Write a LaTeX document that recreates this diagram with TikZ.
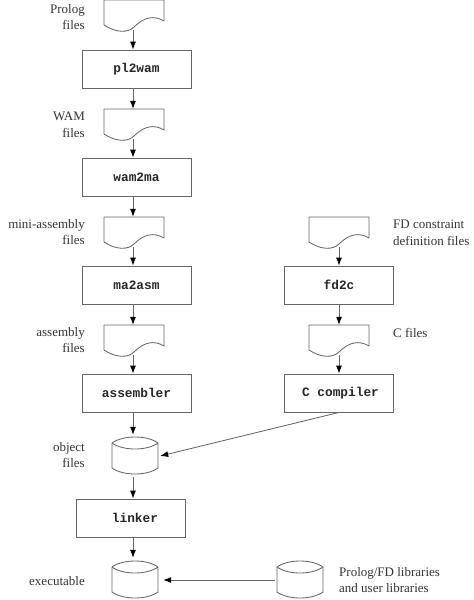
\documentclass[tikz,border=0pt]{standalone}
\usepackage{fontspec}
\setmainfont{Liberation Serif}
\setmonofont{Liberation Mono}
\usetikzlibrary{arrows.meta}
\tikzset{
  x=1pt,y=-1pt,
  toolbox/.style={draw=black!60,line width=0.85pt,minimum width=109pt,minimum height=38pt,inner sep=0pt,font=\fontsize{12.8}{14}\selectfont\ttfamily\bfseries,text=black!85},
  lab/.style={inner sep=0pt,font=\fontsize{13}{16.5}\selectfont,text=black!80},
  labl/.style={lab,align=right,anchor=east},
  labr/.style={lab,align=left,anchor=west},
  flow/.style={draw=black!60,line width=0.85pt,-{Latex[length=8pt,width=6pt,black]}},
  plainshape/.style={draw=black!60,line width=0.85pt,line join=round},
  anchorbox/.style={inner sep=0pt,minimum width=60pt,minimum height=30pt},
  cylbox/.style={inner sep=0pt,minimum height=42pt}
}
\newcommand{\docshape}[2]{% cx, top
  \draw[plainshape] (#1-30,#2) -- (#1+30,#2) -- (#1+30,#2+21)
    .. controls (#1+20,#2+15) and (#1+10,#2+17) .. (#1,#2+27)
    .. controls (#1-6,#2+33) and (#1-18,#2+33) .. (#1-30,#2+25) -- cycle;
}
\newcommand{\cylshape}[2]{% cx, top
  \draw[plainshape] (#1-23,#2+6) -- (#1-23,#2+31)
    .. controls (#1-12,#2+39) and (#1+12,#2+39) .. (#1+23,#2+31) -- (#1+23,#2+6)
    .. controls (#1+12,#2-2) and (#1-12,#2-2) .. (#1-23,#2+6)
    .. controls (#1-12,#2+14) and (#1+12,#2+14) .. (#1+23,#2+6);
}
\begin{document}
\begin{tikzpicture}
\useasboundingbox (0,0) rectangle (474,600);
% document and cylinder outlines
\docshape{134}{0}
\docshape{134}{109}
\docshape{134}{217}
\docshape{134}{325}
\docshape{339}{217}
\docshape{339}{325}
\cylshape{135}{437}
\cylshape{135}{561}
\cylshape{300}{561}
% invisible anchors for the outlines
\node[anchorbox] (d1) at (133,15) {};
\node[anchorbox] (d2) at (133,124) {};
\node[anchorbox] (d3) at (133,232) {};
\node[anchorbox] (d4) at (133,340) {};
\node[anchorbox] (d5) at (339,232) {};
\node[anchorbox] (d6) at (339,340) {};
\node[cylbox,minimum width=54pt] (c1) at (133,456) {};
\node[cylbox,minimum width=60pt,minimum height=44pt] (c2) at (133,580) {};
\node[cylbox,minimum width=50pt] (c3) at (300,580) {};
% tools
\node[toolbox] (pl) at (136.5,69) {pl2wam};
\node[toolbox] (wa) at (136.5,177) {wam2ma};
\node[toolbox] (ma) at (136.5,285) {ma2asm};
\node[toolbox] (as) at (136.5,393) {assembler};
\node[toolbox] (li) at (130.5,518) {\hspace*{9pt}linker};
\node[toolbox] (fd) at (339,285) {fd2c};
\node[toolbox] (cc) at (339,393) {\hspace*{3pt}C compiler};
% connectors
\draw[flow] (d1.south) -- (d1.south |- pl.north);
\draw[flow] (d2.north |- pl.south) -- (d2.north);
\draw[flow] (d2.south) -- (d2.south |- wa.north);
\draw[flow] (d3.north |- wa.south) -- (d3.north);
\draw[flow] (d3.south) -- (d3.south |- ma.north);
\draw[flow] (d4.north |- ma.south) -- (d4.north);
\draw[flow] (d4.south) -- (d4.south |- as.north);
\draw[flow] (c1.north |- as.south) -- (c1.north);
\draw[flow] (c1.south) -- (c1.south |- li.north);
\draw[flow] (c2.north |- li.south) -- (c2.north);
\draw[flow] (d5.south) -- (fd.north);
\draw[flow] (fd.south) -- (d6.north);
\draw[flow] (d6.south) -- (cc.north);
\draw[flow] (cc.south) -- (c1.east);
\draw[flow] (c3.west) -- (c2.east);
% labels
\node[labl] at (85,17) {Prolog\\files};
\node[labl] at (85,125) {WAM\\files};
\node[labl] at (85,232) {mini-assembly\\files};
\node[labl] at (85,340) {assembly\\files};
\node[labl] at (85,455) {object\\files};
\node[labl] at (85,581) {executable};
\node[labr] at (393,233) {FD constraint\\definition files};
\node[labr] at (393,333) {C files};
\node[labr] at (339,580) {Prolog/FD libraries\\and user libraries};
\end{tikzpicture}
\end{document}
